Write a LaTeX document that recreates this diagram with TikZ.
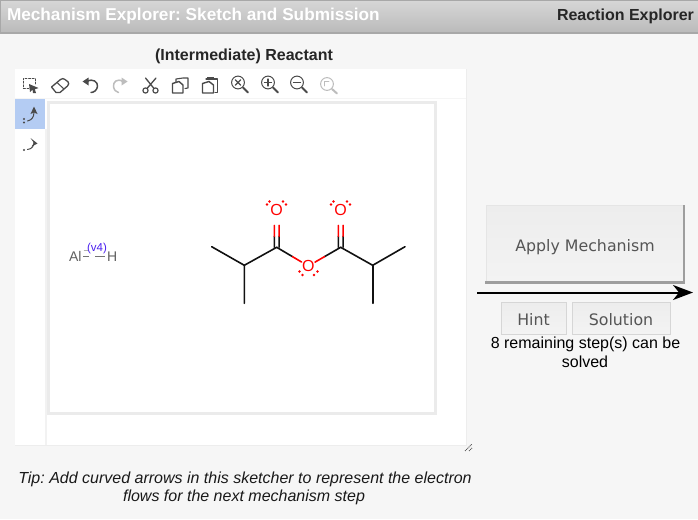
\documentclass[tikz,border=0pt]{standalone}
\usepackage{fontspec}
\setmainfont{Liberation Sans}
\newfontfamily\dejavu{DejaVu Sans}
\usetikzlibrary{calc,arrows.meta}
\frenchspacing
\definecolor{pagebg}{HTML}{F6F6F6}
\definecolor{hdrtop}{HTML}{D6D6D6}
\definecolor{hdrbot}{HTML}{BABABA}
\definecolor{hdrline}{HTML}{A8A8A8}
\definecolor{icon}{HTML}{4A4A4A}
\definecolor{icondis}{HTML}{BDBDBD}
\definecolor{selbg}{HTML}{B4CCF3}
\definecolor{btntext}{HTML}{555555}
\definecolor{atomred}{HTML}{FF0000}
\definecolor{bondblk}{HTML}{111111}
\definecolor{btntop}{HTML}{EDEDED}
\definecolor{btnbot}{HTML}{F3F3F3}
\definecolor{vio}{HTML}{4A1FF0}
\tikzset{
 x=1pt,y=-1pt,
 lbl/.style={inner sep=0pt,outer sep=0pt},
 bond/.style={line width=1.6pt,bondblk,line cap=round},
 rbond/.style={line width=1.6pt,atomred,line cap=round},
 ico/.style={draw=icon,line width=1pt,line cap=round,line join=round},
 ox/.style={inner sep=0.5pt,outer sep=0pt,text=atomred,font=\fontsize{16}{16}\selectfont},
 btn/.style={draw=#1,line width=1.2pt,top color=btntop,bottom color=btnbot},
 btnlabel/.style={lbl,text=btntext,font=\dejavu\fontsize{15.8}{16}\selectfont},
}
\begin{document}
\begin{tikzpicture}
\useasboundingbox (0,0) rectangle (698,519);
\clip (0,0) rectangle (698,519);
\fill[pagebg] (0,0) rectangle (698,519);
% header
\shade[top color=hdrtop,bottom color=hdrbot] (1,1) rectangle (698,33);
\draw[hdrline,line width=1pt] (0.5,33) -- (0.5,0.5) -- (698,0.5);
\draw[hdrline,line width=1.2pt] (0,33) -- (698,33);
\node[lbl,anchor=west,text=white,font=\bfseries\fontsize{17.2}{17}\selectfont] (title) at (7,16.5) {Mechanism Explorer: Sketch and Submission};
\node[lbl,anchor=west,text=black!85,font=\bfseries\fontsize{16}{16}\selectfont] (rexp) at (557,16.5) {Reaction Explorer};
\node[lbl,text=black!85,font=\bfseries\fontsize{16}{16}\selectfont] (sub) at (244,56) {(Intermediate) Reactant};
% sketcher panel
\fill[white] (15,69) rectangle (466,445);
\draw[black!7,line width=1pt] (466,69) -- (466,445) -- (15,445);
\fill[black!5] (45,129) rectangle (46.5,445);
% canvas
\fill[black!4] (15,98.3) rectangle (466,99.3);
\node[draw=black!8,line width=3pt,fill=white,minimum width=387pt,minimum height=311pt,inner sep=0pt,anchor=north west] (canvas) at (46.5,100.5) {};
\fill[selbg] (15,99) rectangle (45,129);
% toolbar icons
\begin{scope}[ico]
 % select
 \draw[dash pattern=on 2pt off 1.6pt,line width=.9pt] (29,88) -- (23,88) -- (23,78) -- (35,78) -- (35,84);
 \fill[icon] (29,84) -- (38.5,88) -- (34.8,89.3) -- (36,93) -- (33,93) -- (32.5,89.5) -- (30,92) -- cycle;
 % eraser
 \draw[line width=1.3pt] (51.5,87) -- (60.5,79.5) .. controls (62,78.3) and (63.5,78.3) .. (65,79.5) -- (68,81.8) .. controls (69,83) and (69,84.5) .. (67.5,86) -- (60,92.5) -- (56,92.5) -- cycle;
 \draw (57,82.5) -- (64,89);
 % undo
 \draw[line width=1.5pt] (87,81.5) .. controls (93,78) and (98,82) .. (97.5,86.5) .. controls (97,90) and (94,92.5) .. (91,92.5);
 \fill[icon] (82.5,81.5) -- (88.5,77.5) -- (88.5,85.5) -- cycle;
 % redo
 \draw[line width=1.5pt,icondis] (123,81.5) .. controls (117,78) and (113,82) .. (113.5,86.5) .. controls (114,90) and (116,92) .. (118.5,92.5);
 \fill[icondis] (127.5,81.5) -- (121.5,77.5) -- (121.5,85.5) -- cycle;
 % cut
 \draw[line width=1.3pt] (145.5,78) -- (154,88.5) (156,78) -- (147,88.5);
 \draw[line width=1.2pt] (145.5,90.5) circle[radius=2.6pt] (155.5,90.5) circle[radius=2.6pt];
 % copy
 \draw[line width=1.1pt] (176,83) -- (176,79) -- (183,78) -- (188,78) -- (188,88) -- (185,88.5);
 \draw[line width=1.4pt,fill=white] (172.5,83.5) -- (179,81.5) -- (183,85) -- (183,93) -- (172.5,93) -- cycle;
 % paste
 \draw[line width=1.1pt] (206,79) -- (217.5,79) -- (217.5,92.5) -- (215,92.5);
 \fill[icon] (207,76.5) rectangle (214,80);
 \draw[line width=1.4pt,fill=white] (202.5,83.5) -- (209,81.5) -- (213.5,85) -- (213.5,93) -- (202.5,93) -- cycle;
 % zoom clear
 \draw (238,82.5) circle[radius=6.4pt];
 \draw[line width=2pt] (243,87.5) -- (248,92.5);
 \draw[line width=1.2pt] (235.3,79.8) -- (240.7,85.2) (240.7,79.8) -- (235.3,85.2);
 % zoom in
 \draw (268,82.5) circle[radius=6.4pt];
 \draw[line width=2pt] (273,87.5) -- (278,92.5);
 \draw[line width=1.2pt] (264.5,82.5) -- (271.5,82.5) (268,79) -- (268,86);
 % zoom out
 \draw (297,82.5) circle[radius=6.4pt];
 \draw[line width=2pt] (302,87.5) -- (307,92.5);
 \draw[line width=1.2pt] (293.5,82.5) -- (300.5,82.5);
 % zoom fit
 \draw[draw=icondis] (327,84) circle[radius=6.4pt];
 \draw[draw=icondis,line width=2pt] (332,89) -- (337,93.5);
 \draw[draw=icondis,line width=.8pt] (324,86) -- (324,81.5) -- (329,81.5);
 % arrow tool 1
 \fill[icon] (24,119) circle[radius=1.1pt] (24,122.5) circle[radius=1.1pt];
 \draw[line width=1pt] (27.5,121) .. controls (32,120) and (34,117) .. (34,112);
 \fill[icon] (34,106.5) -- (37.5,114) -- (34,112.5) -- (30.5,114) -- cycle;
 % arrow tool 2
 \fill[icon] (24,150) circle[radius=1.1pt];
 \draw[line width=1pt] (27.5,149.5) .. controls (32,149) and (34,146) .. (34,142);
 \fill[icon] (37.5,143.5) -- (30.5,138) -- (34,143) -- (31.5,146.5) -- cycle;
\end{scope}
% resize handle
\draw[black!65,line width=.8pt,dash pattern=on 1pt off .7pt] (465,451) -- (472,444);
\draw[black!65,line width=.8pt,dash pattern=on 1pt off .7pt] (469,451) -- (472,448);
% Al-H
\node[lbl,text=black!62,anchor=west,font=\fontsize{14}{14}\selectfont] (al) at (69,256.5) {Al};
\node[lbl,text=black!62,anchor=west,font=\fontsize{14}{14}\selectfont] (hatom) at (107,256.5) {H};
\coordinate (alb) at (83,256.5);
\coordinate (alc) at (88.5,256.5);
\coordinate (hc) at (95,256.5);
\coordinate (hb) at (105,256.5);
\draw[black!55,line width=.9pt] (alb) -- (alc);
\draw[black!55,line width=.9pt] (hc) -- (hb);
\draw[black!30,line width=.8pt] (83.5,250.5) -- (87.5,250.5);
\node[lbl,text=vio,font=\fontsize{11.5}{12}\selectfont] (v4) at (97,249) {(v4)};
% molecule atoms
\coordinate (m1) at (211.7,246.7);
\coordinate (ch1) at (244.3,265.3);
\coordinate (m2) at (244.3,303.3);
\coordinate (c1) at (276.7,247.3);
\node[ox] (o1) at (276.7,210) {O};
\node[ox] (o2) at (308.3,266) {O};
\coordinate (c2) at (340.7,247.3);
\node[ox] (o3) at (340.7,210) {O};
\coordinate (ch2) at (372.7,265.3);
\coordinate (m3) at (405,246.7);
\coordinate (m4) at (372.7,303.3);
% bonds
\draw[bond] (m1) -- (ch1) -- (m2);
\draw[bond] (ch1) -- (c1);
\draw[bond] (c2) -- (ch2) -- (m3);
\draw[bond] (ch2) -- (m4);
\coordinate (mid1) at ($(c1)!.5!(o2)$);
\coordinate (mid2) at ($(c2)!.5!(o2)$);
\draw[bond] (c1) -- (mid1);
\draw[rbond] (mid1) -- (o2);
\draw[bond] (c2) -- (mid2);
\draw[rbond] (mid2) -- (o2);
\foreach \c/\o in {c1/o1,c2/o3}{
 \foreach \s in {-2.4,2.4}{
  \coordinate (a) at ([xshift=\s pt]\c);
  \coordinate (b) at ([xshift=\s pt,yshift=-9.2pt]\o.south);
  \coordinate (h) at ($(a)!.5!(b)$);
  \draw[bond] (a) -- (h);
  \draw[rbond] (h) -- (b);
 }
}
% lone pairs
\foreach \x/\y in {267/204.5,269.5/201.5,283/201.5,286/204.5,331/204.5,333.5/201.5,347/201.5,350/204.5,299.5/271.5,302.5/275,314/275,317.5/271.5}{
 \fill[atomred] (\x,\y) circle[radius=1.35pt];
}
% buttons
\node[btn=black!10,minimum width=197pt,minimum height=76pt,inner sep=0pt,anchor=north west] (apply) at (486,205) {};
\draw[black!38,line width=2.6pt] (684,205) -- (684,282.3) -- (485,282.3);
\node[btnlabel] (applyt) at (585,247) {Apply Mechanism};
\coordinate (arrs) at (477,292.5);
\coordinate (arre) at (693,292.5);
\draw[black,line width=2pt,-{Stealth[length=20pt,width=15pt,inset=6pt]}] (arrs) -- (arre);
\node[btn=black!16,minimum width=65pt,minimum height=32pt,inner sep=0pt,anchor=north west] (hint) at (501,302) {};
\node[btnlabel] (hintt) at (533.5,319.5) {Hint};
\node[btn=black!16,minimum width=98pt,minimum height=32pt,inner sep=0pt,anchor=north west] (sol) at (572,302) {};
\node[btnlabel] (solt) at (621,319.5) {Solution};
\node[lbl,text=black,font=\fontsize{16}{16}\selectfont] (rem1) at (585.5,344) {8 remaining step(s) can be};
\node[lbl,text=black,font=\fontsize{16}{16}\selectfont] (rem2) at (585,361.5) {solved};
% tip
\node[lbl,text=black!90,font=\itshape\fontsize{16}{16}\selectfont] (tip1) at (245,479) {Tip: Add curved arrows in this sketcher to represent the electron};
\node[lbl,text=black!90,font=\itshape\fontsize{16}{16}\selectfont] (tip2) at (244,497) {flows for the next mechanism step};
\end{tikzpicture}
\end{document}
